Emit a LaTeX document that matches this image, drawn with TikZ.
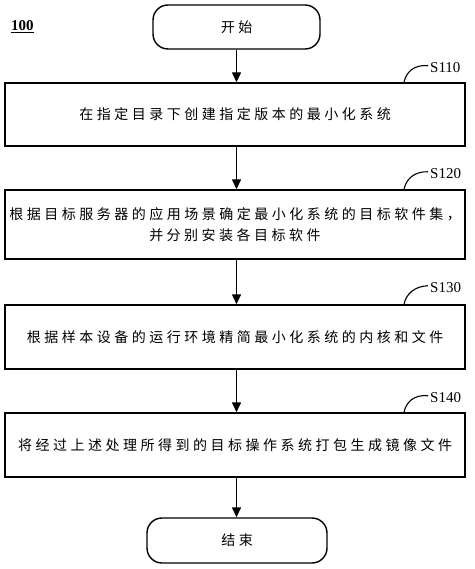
\documentclass[tikz,border=0pt]{standalone}
\usepackage{fontspec}
\setmainfont{Liberation Serif}
\newfontfamily\cjk[LetterSpace=25]{Noto Sans CJK SC}
\usetikzlibrary{arrows.meta}
\begin{document}
\begin{tikzpicture}[x=1pt,y=-1pt,
  box/.style={draw,line width=1.4pt,minimum width=460pt,inner sep=0pt,align=center,font=\cjk\fontsize{14}{21}\selectfont},
  term/.style={draw,line width=1.4pt,rounded corners=15pt,inner sep=0pt,font=\cjk\fontsize{14}{18}\selectfont},
  arr/.style={line width=1.4pt,-{Triangle[length=10pt,width=9pt]}},
  lbl/.style={anchor=west,inner sep=0pt,font=\fontsize{15}{15}\selectfont},
  lead/.style={line width=1.1pt}]
\useasboundingbox (0,0) rectangle (474,569);
\node[term,minimum width=167pt,minimum height=44pt] (s) at (236.5,27) {开始};
\node[box,minimum height=63pt] (b1) at (235,114.5) {在指定目录下创建指定版本的最小化系统};
\node[box,minimum height=69pt] (b2) at (235,224.5) {根据目标服务器的应用场景确定最小化系统的目标软件集，\\并分别安装各目标软件};
\node[box,minimum height=64pt] (b3) at (235,337) {根据样本设备的运行环境精简最小化系统的内核和文件};
\node[box,minimum height=64pt] (b4) at (235,445) {将经过上述处理所得到的目标操作系统打包生成镜像文件};
\node[term,minimum width=180pt,minimum height=45pt] (e) at (237,540.5) {结束};
\node[anchor=west,inner sep=0pt,font=\bfseries\fontsize{15}{15}\selectfont] (n) at (11,27) {\underline{100}};
\node[lbl] (l1) at (430,68) {S110};
\node[lbl] (l2) at (430,174) {S120};
\node[lbl] (l3) at (430,288) {S130};
\node[lbl] (l4) at (430,398) {S140};
\draw[arr] (s.south) -- (s.south |- b1.north);
\draw[arr] (s.south |- b1.south) -- (s.south |- b2.north);
\draw[arr] (s.south |- b2.south) -- (s.south |- b3.north);
\draw[arr] (s.south |- b3.south) -- (s.south |- b4.north);
\draw[arr] (s.south |- b4.south) -- (s.south |- e.north);
\foreach \b/\l in {b1/l1,b2/l2,b3/l3,b4/l4}{
  \coordinate (t) at ([xshift=169pt]\b.north);
  \draw[lead] (t) .. controls ([xshift=2pt,yshift=10pt]t) and ([xshift=10pt,yshift=18pt]t) .. ([xshift=-2pt,yshift=-3pt]\l.north west);
}
\end{tikzpicture}
\end{document}
